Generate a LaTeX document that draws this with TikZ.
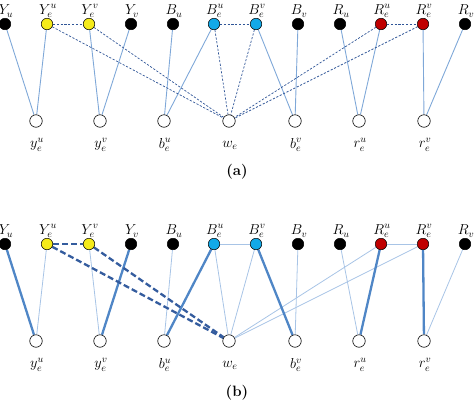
\documentclass[tikz,border=0pt]{standalone}
\usetikzlibrary{backgrounds}
\definecolor{yel}{HTML}{F5EB1A}
\definecolor{cyn}{HTML}{12A9E8}
\definecolor{rd}{HTML}{C00000}
\definecolor{lightln}{HTML}{7FA8D8}
\definecolor{paleln}{HTML}{A8C4E6}
\definecolor{darkln}{HTML}{2F5597}
\definecolor{midln}{HTML}{4F86C6}
\tikzset{
  topdot/.style={circle, draw=black, line width=0.5pt, minimum size=11.5pt, inner sep=0pt},
  botdot/.style={circle, draw=black, fill=white, line width=0.6pt, minimum size=12.5pt, inner sep=0pt},
  lbl/.style={font=\fontsize{14}{16}\selectfont, inner sep=0pt},
  panellbl/.style={font=\fontsize{15}{17}\selectfont\bfseries, inner sep=0pt},
  lnlight/.style={draw=lightln, line width=0.9pt},
  lnpale/.style={draw=paleln, line width=0.8pt},
  lndash/.style={draw=darkln, line width=0.7pt, dash pattern=on 2.2pt off 1.6pt},
  lnthick/.style={draw=midln, line width=2.3pt},
  lndashthick/.style={draw=darkln!85!midln, line width=2.3pt, dash pattern=on 6pt off 3pt},
}
\newcommand\mkpanel[3]{%
  \foreach \nm/\x/\col/\txt in {Yu/5/black/Y_u, Yeu/47/yel/Y_e^u, Yev/89/yel/Y_e^v, Yv/131/black/Y_v,
      Bu/173/black/B_u, Beu/214/cyn/B_e^u, Bev/256/cyn/B_e^v, Bv/298/black/B_v,
      Ru/340/black/R_u, Reu/381/rd/R_e^u, Rev/423/rd/R_e^v, Rv/465/black/R_v}{
    \node[topdot, fill=\col] (#1\nm) at (\x,#2+24) {};
    \node[lbl] (#1\nm L) at (\x+1,#2+11) {$\txt$};
  }
  \foreach \nm/\x/\txt in {yeu/36/y_e^u, yev/100/y_e^v, beu/164/b_e^u, we/229/w_e,
      bev/295/b_e^v, reu/359/r_e^u, rev/424/r_e^v}{
    \node[botdot] (#1\nm) at (\x,#3+121) {};
    \node[lbl] (#1\nm L) at (\x+1,#3+145) {$\txt$};
  }
}
\begin{document}
\begin{tikzpicture}[x=1pt,y=-1pt]
\useasboundingbox (0,0) rectangle (474,405);
\mkpanel{a}{0}{0}
\mkpanel{b}{220}{220}
\node[panellbl] (alab) at (237,172) {(a)};
\node[panellbl] (blab) at (237,393) {(b)};
\begin{scope}[on background layer]
% panel (a)
\draw[lnlight] (aYu) -- (ayeu);
\draw[lnlight] (aYeu) -- (ayeu);
\draw[lnlight] (aYev) -- (ayev);
\draw[lnlight] (aYv) -- (ayev);
\draw[lnlight] (aBu) -- (abeu);
\draw[lnlight] (aBeu) -- (abeu);
\draw[lnlight] (aBev) -- (abev);
\draw[lnlight] (aBv) -- (abev);
\draw[lnlight] (aRu) -- (areu);
\draw[lnlight] (aReu) -- (areu);
\draw[lnlight] (aRev) -- (arev);
\draw[lnlight] (aRv) -- (arev);
\draw[lndash] (aYeu) -- (aYev);
\draw[lndash] (aYeu) -- (awe);
\draw[lndash] (aYev) -- (awe);
\draw[lndash] (aBeu) -- (aBev);
\draw[lndash] (aBeu) -- (awe);
\draw[lndash] (aBev) -- (awe);
\draw[lndash] (aReu) -- (aRev);
\draw[lndash] (aReu) -- (awe);
\draw[lndash] (aRev) -- (awe);
% panel (b)
\draw[lnpale] (bYeu) -- (byeu);
\draw[lnpale] (bYev) -- (byev);
\draw[lnpale] (bBu) -- (bbeu);
\draw[lnpale] (bBv) -- (bbev);
\draw[lnpale] (bRu) -- (breu);
\draw[lnpale] (bRv) -- (brev);
\draw[lnpale] (bBeu) -- (bBev);
\draw[lnpale] (bBeu) -- (bwe);
\draw[lnpale] (bBev) -- (bwe);
\draw[lnpale] (bReu) -- (bRev);
\draw[lnpale] (bReu) -- (bwe);
\draw[lnpale] (bRev) -- (bwe);
\draw[lnthick] (bYu) -- (byeu);
\draw[lnthick] (bYv) -- (byev);
\draw[lnthick] (bBeu) -- (bbeu);
\draw[lnthick] (bBev) -- (bbev);
\draw[lnthick] (bReu) -- (breu);
\draw[lnthick] (bRev) -- (brev);
\draw[lndashthick] (bYeu) -- (bYev);
\draw[lndashthick] (bYeu) -- (bwe);
\draw[lndashthick] (bYev) -- (bwe);
\end{scope}
\end{tikzpicture}
\end{document}
